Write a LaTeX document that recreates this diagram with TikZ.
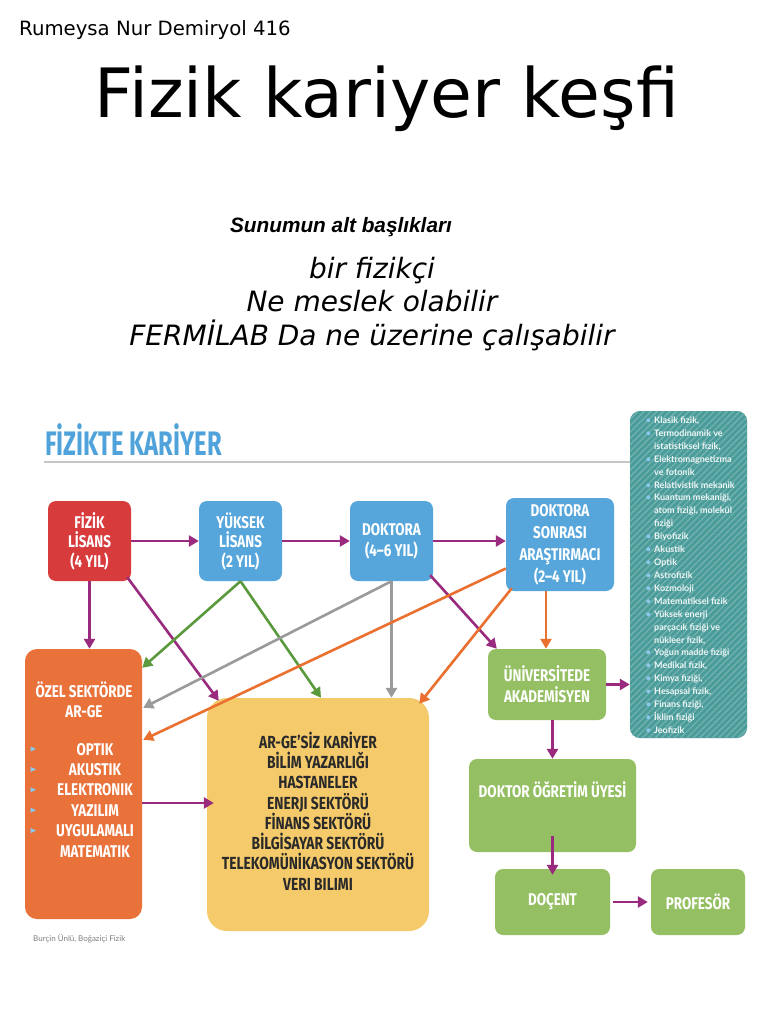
\documentclass[tikz,border=0pt]{standalone}
\usepackage{fontspec}
\setmainfont{DejaVu Sans}
\newfontfamily\lib{Liberation Sans}
\newfontfamily\cond[FakeStretch=0.79]{Fira Sans}
\newfontfamily\condt[FakeStretch=0.7]{Fira Sans}
\newfontfamily\lato{Lato}
\usetikzlibrary{arrows.meta,calc,patterns.meta}
\definecolor{redb}{HTML}{D83B3C}
\definecolor{blueb}{HTML}{56A6DC}
\definecolor{orangeb}{HTML}{E9713A}
\definecolor{yellowb}{HTML}{F5CA6A}
\definecolor{greenb}{HTML}{94BF62}
\definecolor{tealb}{HTML}{4A9C9A}
\definecolor{purp}{HTML}{9A2A7E}
\definecolor{grn}{HTML}{5A9A3C}
\definecolor{gry}{HTML}{9A9A9A}
\definecolor{orn}{HTML}{EA7030}
\definecolor{titleblue}{HTML}{4FA3DA}
\definecolor{bulc}{HTML}{8CC8EE}
\definecolor{txtdark}{HTML}{2A2A2A}
\newcommand\tbul{\llap{\textcolor{bulc}{\textbullet}\hspace{3pt}}}
\tikzset{
  box/.style={rounded corners=8pt, inner sep=0pt, align=center, text=white,
    font=\cond\bfseries\fontsize{17}{19.5}\selectfont},
  arr/.style={line width=2.6pt, -{Triangle[length=10pt,width=11pt]}},
  boxtext/.style={align=center, inner sep=0pt, text=white,
    font=\cond\bfseries\fontsize{17}{20.4}\selectfont},
}
\begin{document}
\begin{tikzpicture}[x=1pt,y=-1pt]
\fill[white] (0,0) rectangle (768,1024);
\useasboundingbox (0,0) rectangle (768,1024);

% header texts
\node[anchor=west, inner sep=0pt, font=\fontsize{19.7}{22}\selectfont] (author) at (19,30) {Rumeysa Nur Demiryol 416};
\node[inner sep=0pt, font=\fontsize{68}{76}\selectfont] (title) at (387,99) {Fizik kariyer keşfi};
\node[inner sep=0pt, font=\lib\bfseries\itshape\fontsize{20.8}{24}\selectfont] (sub) at (341,227) {Sunumun alt başlıkları};
\node[inner sep=0pt, align=center, font=\itshape\fontsize{28}{33.5}\selectfont] (topics) at (372,304) {bir fizikçi\\Ne meslek olabilir\\FERMİLAB Da ne üzerine çalışabilir};

% diagram title
\node[anchor=west, inner sep=0pt, text=titleblue, font=\condt\bfseries\fontsize{34}{36}\selectfont] (dtitle) at (45,440) {FİZİKTE KARİYER};
\draw[gray!45, line width=1.2pt] (44,462) -- (630,462);

% boxes
\node[box, fill=redb, minimum width=83pt, minimum height=80pt] (fl) at (89.5,541) {FİZİK\\LİSANS\\(4 YIL)};
\node[box, fill=blueb, minimum width=83pt, minimum height=80pt] (yl) at (240.5,541) {YÜKSEK\\LİSANS\\(2 YIL)};
\node[box, fill=blueb, minimum width=83pt, minimum height=80pt, font=\cond\bfseries\fontsize{17}{21}\selectfont] (dr) at (391.5,541) {DOKTORA\\(4–6 YIL)};
\node[box, fill=blueb, minimum width=108pt, minimum height=93pt, font=\cond\bfseries\fontsize{17}{22}\selectfont] (ds) at (560,544.5) {DOKTORA\\SONRASI\\ARAŞTIRMACI\\(2–4 YIL)};

\node[rounded corners=10pt, fill=tealb, minimum width=117pt, minimum height=327pt, inner sep=0pt] (te) at (688.5,574.5) {};
\path[pattern={Lines[angle=45,distance=4.5pt,line width=1.3pt]}, pattern color=white!22!tealb, rounded corners=10pt] (te.north west) rectangle (te.south east);
\node[anchor=north west, inner sep=0pt, align=left, text=white!92!tealb, font=\lato\bfseries\fontsize{9}{12.92}\selectfont] (tetext) at (654,416.5) {%
\tbul Klasik fizik,\\
\tbul Termodinamik ve\\
istatistiksel fizik,\\
\tbul Elektromagnetizma\\
ve fotonik\\
\tbul Relativistik mekanik\\
\tbul Kuantum mekaniği,\\
atom fiziği, molekül\\
fiziği\\
\tbul Biyofizik\\
\tbul Akustik\\
\tbul Optik\\
\tbul Astrofizik\\
\tbul Kozmoloji\\
\tbul Matematiksel fizik\\
\tbul Yüksek enerji\\
parçacık fiziği ve\\
nükleer fizik,\\
\tbul Yoğun madde fiziği\\
\tbul Medikal fizik,\\
\tbul Kimya fiziği,\\
\tbul Hesapsal fizik,\\
\tbul Finans fiziği,\\
\tbul İklim fiziği\\
\tbul Jeofizik};

\node[box, rounded corners=12pt, fill=orangeb, minimum width=117pt, minimum height=270pt] (oz) at (83.5,784) {};
\node[boxtext] (ozt) at (84,700) {ÖZEL SEKTÖRDE\\AR-GE};
\node[boxtext] (ozl) at (95,800) {OPTIK\\AKUSTIK\\ELEKTRONIK\\YAZILIM\\UYGULAMALI\\MATEMATIK};
\foreach \yy in {749,769.4,789.8,810.2,830.6}
  \fill[bulc] (30.5,\yy-2.6) -- (36,\yy) -- (30.5,\yy+2.6) -- cycle;

\node[box, rounded corners=20pt, fill=yellowb, minimum width=222pt, minimum height=233pt] (ye) at (318,814.5) {};
\node[boxtext, text=txtdark, font=\cond\bfseries\fontsize{17.5}{20.3}\selectfont] (yet) at (318,811) {AR-GE’SİZ KARİYER\\BİLİM YAZARLIĞI\\HASTANELER\\ENERJI SEKTÖRÜ\\FİNANS SEKTÖRÜ\\BİLGİSAYAR SEKTÖRÜ\\TELEKOMÜNİKASYON SEKTÖRÜ\\VERI BILIMI};

\node[box, fill=greenb, minimum width=118pt, minimum height=71pt, font=\cond\bfseries\fontsize{17}{21}\selectfont] (ua) at (547,684.5) {ÜNİVERSİTEDE\\AKADEMİSYEN};
\node[box, fill=greenb, minimum width=167pt, minimum height=93pt] (dou) at (552.5,805.5) {};
\node[boxtext] (dout) at (552.5,790) {DOKTOR ÖĞRETİM ÜYESİ};
\node[box, fill=greenb, minimum width=115pt, minimum height=66pt] (doc) at (552.5,902) {DOÇENT};
\node[box, fill=greenb, minimum width=94pt, minimum height=66pt] (pr) at (698,902) {PROFESÖR};

% arrows
\draw[arr, purp] (fl.east) -- (yl.west);
\draw[arr, purp] (yl.east) -- (dr.west);
\draw[arr, purp] (dr.east) -- (dr.east -| ds.west);
\draw[arr, purp] (fl.south) -- (fl.south |- oz.north);
\draw[arr, purp] ($(fl.south east)+(-4,-4)$) -- ($(ye.north west)+(12,3)$);
\draw[arr, grn] (yl.south) -- ($(oz.north east)+(0,19)$);
\draw[arr, grn] (yl.south) -- ($(ye.north)+(3,0)$);
\draw[arr, gry] (dr.south) -- ($(oz.north east)+(1,59)$);
\draw[arr, gry] (dr.south) -- (dr.south |- ye.north);
\draw[arr, purp] ($(dr.south east)+(-3,-6)$) -- ($(ua.north west)+(9,0)$);
\draw[arr, orn] ($(ds.west)+(0,24)$) -- ($(oz.north east)+(1,91)$);
\draw[arr, orn] ($(ds.south west)+(6,-3)$) -- ($(ye.north east)+(-10,6)$);
\coordinate (dsb) at ($(ds.south)+(-14,0)$);
\draw[arr, orn] (dsb) -- (dsb |- ua.north);
\draw[arr, purp] (ua.east) -- (ua.east -| te.west);
\draw[arr, purp] (dou.north |- ua.south) -- (dou.north);
\draw[arr, purp] ($(dou.south)+(0,-16)$) -- ($(doc.north)+(0,6)$);
\draw[arr, purp, shorten <=3pt, shorten >=3pt] (doc.east) -- (pr.west);
\coordinate (ozr) at ($(oz.east)+(0,19)$);
\draw[arr, purp] (ozr) -- ($(ozr -| ye.west)+(7,0)$);

\node[anchor=west, inner sep=0pt, text=gray, font=\lato\fontsize{8}{9}\selectfont] (credit) at (33,939) {Burçin Ünlü, Boğaziçi Fizik};
\end{tikzpicture}
\end{document}
